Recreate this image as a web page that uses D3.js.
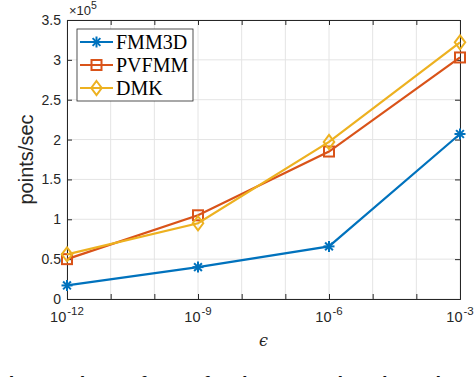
<!DOCTYPE html>
<html lang="en">
<head>
<meta charset="UTF-8">
<title>points/sec vs epsilon</title>
<style>
  body, html { margin: 0; background: #fff; overflow: hidden; }
  text { font-family: "Liberation Sans", Arial, sans-serif; }
</style>
</head>
<body>
<script src="https://d3js.org/d3.v7.min.js"></script>
<script>
// data (points/sec in units of 1e5)
const eps = [1e-12, 1e-9, 1e-6, 1e-3];
const fmm3d = [0.17, 0.40, 0.66, 2.07];
const pvfmm = [0.50, 1.05, 1.85, 3.03];
const dmk = [0.56, 0.95, 1.97, 3.22];
const seriesNames = ["FMM3D", "PVFMM", "DMK"];
const yTicks = [0, 0.5, 1, 1.5, 2, 2.5, 3, 3.5];
const xLabelExp = ["-12", "-9", "-6", "-3"];

const width = 474, height = 377;
const m = {left: 67, right: 14, top: 20, bottom: 78};

const svg = d3.select("body").append("svg")
    .attr("width", width).attr("height", height);

const x = d3.scaleLog().domain([1e-12, 1e-3]).range([m.left, width - m.right]);
const y = d3.scaleLinear().domain([0, 3.5]).range([height - m.bottom, m.top]);

const axisCol = "#262626";
const decades = d3.range(-12, -2).map(e => Math.pow(10, e));

// grid
const g = svg.append("g");
g.selectAll(".gx").data(decades).enter().append("line")
    .attr("x1", d => x(d)).attr("x2", d => x(d))
    .attr("y1", y(0)).attr("y2", y(3.5))
    .attr("stroke", "#e4e4e4").attr("stroke-width", 1);
g.selectAll(".gy").data(yTicks).enter().append("line")
    .attr("x1", x(1e-12)).attr("x2", x(1e-3))
    .attr("y1", d => y(d)).attr("y2", d => y(d))
    .attr("stroke", "#e4e4e4").attr("stroke-width", 1);

// axes (ticks inside, box on)
svg.append("g").attr("transform", `translate(0,${y(0)})`)
    .call(d3.axisBottom(x).tickValues(decades).tickSize(-5).tickFormat(""))
    .call(a => a.select(".domain").attr("stroke", axisCol))
    .call(a => a.selectAll("line").attr("stroke", axisCol));
svg.append("g").attr("transform", `translate(0,${y(3.5)})`)
    .call(d3.axisTop(x).tickValues(decades).tickSize(-5).tickFormat(""))
    .call(a => a.select(".domain").attr("stroke", axisCol))
    .call(a => a.selectAll("line").attr("stroke", axisCol));
svg.append("g").attr("transform", `translate(${x(1e-12)},0)`)
    .call(d3.axisLeft(y).tickValues(yTicks).tickSize(-5).tickPadding(6).tickFormat(d3.format("")))
    .call(a => a.select(".domain").attr("stroke", axisCol))
    .call(a => a.selectAll("line").attr("stroke", axisCol))
    .call(a => a.selectAll("text").attr("fill", axisCol).style("font-size", "14px")
        .style("font-family", "Liberation Sans, Arial, sans-serif"));
svg.append("g").attr("transform", `translate(${x(1e-3)},0)`)
    .call(d3.axisRight(y).tickValues(yTicks).tickSize(-5).tickFormat(""))
    .call(a => a.select(".domain").attr("stroke", axisCol))
    .call(a => a.selectAll("line").attr("stroke", axisCol));

// x tick labels 10^n
eps.forEach((e, i) => {
  const t = svg.append("text")
      .attr("x", x(e)).attr("y", y(0) + 23)
      .attr("text-anchor", "middle")
      .attr("fill", axisCol).style("font-size", "14.5px");
  t.append("tspan").text("10");
  t.append("tspan").attr("dx", 1).attr("dy", -7).style("font-size", "11.5px").text(xLabelExp[i]);
});

// exponent label
const ex = svg.append("text").attr("x", x(1e-12) + 2).attr("y", m.top - 5)
    .attr("fill", axisCol).style("font-size", "13px");
ex.append("tspan").text("\u00d710");
ex.append("tspan").attr("dy", -6).style("font-size", "10.5px").text("5");

// axis labels
svg.append("text")
    .attr("transform", `translate(33,${(y(0) + y(3.5)) / 2}) rotate(-90)`)
    .attr("text-anchor", "middle").attr("fill", axisCol)
    .style("font-size", "20px").text("points/sec");
svg.append("text")
    .attr("x", (x(1e-12) + x(1e-3)) / 2).attr("y", y(0) + 47)
    .attr("text-anchor", "middle").attr("fill", axisCol)
    .style("font-size", "16px").style("font-family", "DejaVu Serif, serif")
    .style("font-style", "italic").text("\u03f5");

// caption fragment, only its top edge shows at the bottom of the picture
svg.append("text")
    .attr("x", 2).attr("y", 391)
    .attr("fill", "#111")
    .style("font-size", "20px").style("font-weight", "bold")
    .text("the numbers of DMK for the 3D Laplace kernel");

// series
const colors = ["#0072BD", "#D95319", "#EDB120"];
const allData = [fmm3d, pvfmm, dmk];
const line = d3.line().x((d, i) => x(eps[i])).y(d => y(d));

function drawMarker(sel, k, cx, cy) {
  const c = colors[k];
  if (k === 0) {
    const r = 5.5;
    for (let a = 0; a < 4; a++) {
      const ang = a * Math.PI / 4;
      sel.append("line")
          .attr("x1", cx - r * Math.cos(ang)).attr("y1", cy - r * Math.sin(ang))
          .attr("x2", cx + r * Math.cos(ang)).attr("y2", cy + r * Math.sin(ang))
          .attr("stroke", c).attr("stroke-width", 2);
    }
  } else if (k === 1) {
    sel.append("rect").attr("x", cx - 5).attr("y", cy - 5)
        .attr("width", 10).attr("height", 10)
        .attr("fill", "none").attr("stroke", c).attr("stroke-width", 2);
  } else {
    const r = 7;
    sel.append("path")
        .attr("d", `M${cx},${cy - r}L${cx + r * 0.75},${cy}L${cx},${cy + r}L${cx - r * 0.75},${cy}Z`)
        .attr("fill", "none").attr("stroke", c).attr("stroke-width", 2);
  }
}

allData.forEach((vals, k) => {
  const sg = svg.append("g");
  sg.append("path").datum(vals)
      .attr("d", line).attr("fill", "none")
      .attr("stroke", colors[k]).attr("stroke-width", 2.2);
  vals.forEach((v, i) => drawMarker(sg, k, x(eps[i]), y(v)));
});

// legend
const lg = svg.append("g");
lg.append("rect").attr("x", 77).attr("y", 29).attr("width", 116).attr("height", 72)
    .attr("fill", "#fff").attr("stroke", axisCol).attr("stroke-width", 0.8);
seriesNames.forEach((name, k) => {
  const ly = 42 + k * 23;
  lg.append("line").attr("x1", 80).attr("x2", 113).attr("y1", ly).attr("y2", ly)
      .attr("stroke", colors[k]).attr("stroke-width", 2.2);
  drawMarker(lg, k, 96.5, ly);
  lg.append("text").attr("x", 116).attr("y", ly + 7)
      .attr("fill", "#000").style("font-size", "20px")
      .style("font-family", "Liberation Serif, Times New Roman, serif")
      .text(name);
});
</script>
</body>
</html>
